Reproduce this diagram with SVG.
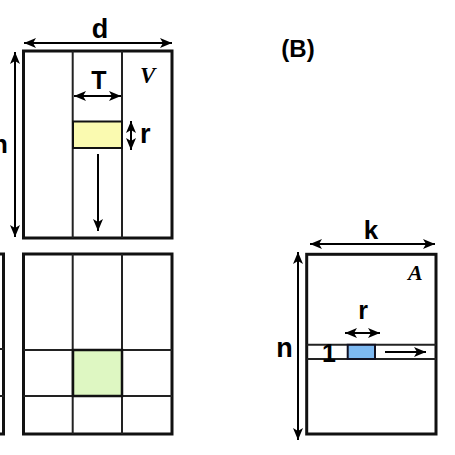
<svg xmlns="http://www.w3.org/2000/svg" width="455" height="455" viewBox="0 0 455 455">
<style>
.box{fill:none;stroke:#111;stroke-width:3}
.in{stroke:#222;stroke-width:2;fill:none}
.arr{stroke:#000;stroke-width:2;fill:none}
.lbl{font-family:"Liberation Sans",Arial,sans-serif;font-weight:bold;fill:#000}
.mat{font-family:"Liberation Serif","Times New Roman",serif;font-weight:bold;font-style:italic;fill:#000}
</style>
<defs>
<marker id="ah" markerUnits="userSpaceOnUse" markerWidth="12" markerHeight="10" refX="12" refY="5" orient="auto-start-reverse">
<path d="M0,0 L12,5 L0,10 L3,5 z" fill="#000"/>
</marker>
</defs>
<rect width="455" height="455" fill="#fff"/>
<g id="V-matrix">
<rect class="box" x="23.5" y="51" width="148.5" height="187"/>
<line class="in" x1="72.7" y1="51" x2="72.7" y2="238"/>
<line class="in" x1="122" y1="51" x2="122" y2="238"/>
<rect x="73" y="121.5" width="49" height="26.5" fill="#fafab0" stroke="#111" stroke-width="2"/>
<text class="mat" x="140" y="83" font-size="23">V</text>
</g>
<g id="left-partial">
<polyline class="box" points="-2,254 3.5,254 3.5,434 -2,434"/>
<line class="in" x1="0" y1="349" x2="4" y2="349"/>
<line class="in" x1="0" y1="396" x2="4" y2="396"/>
</g>
<g id="grid-matrix">
<rect class="box" x="23.5" y="254" width="148.5" height="180"/>
<line class="in" x1="72.7" y1="254" x2="72.7" y2="434"/>
<line class="in" x1="122" y1="254" x2="122" y2="434"/>
<line class="in" x1="23.5" y1="350" x2="172" y2="350"/>
<line class="in" x1="23.5" y1="396" x2="172" y2="396"/>
<rect x="73" y="350" width="49" height="46" fill="#def7c2" stroke="#111" stroke-width="2.5"/>
</g>
<g id="A-matrix">
<rect class="box" x="306.7" y="254.3" width="129.3" height="179.7"/>
<line class="in" x1="306.7" y1="344.8" x2="436" y2="344.8"/>
<line class="in" x1="306.7" y1="359" x2="436" y2="359"/>
<rect x="347.7" y="344.8" width="27.3" height="14.2" fill="#7db9f2" stroke="#112" stroke-width="2"/>
<text class="mat" x="408" y="280" font-size="22">A</text>
<text class="lbl" x="329" y="362" font-size="25" text-anchor="middle">1</text>
</g>
<g id="connectors">
<line class="arr" x1="24" y1="43" x2="172" y2="43" marker-start="url(#ah)" marker-end="url(#ah)"/>
<line class="arr" x1="15" y1="52" x2="15" y2="237" marker-start="url(#ah)" marker-end="url(#ah)"/>
<line class="arr" x1="74" y1="96" x2="121" y2="96" marker-start="url(#ah)" marker-end="url(#ah)"/>
<line class="arr" x1="131" y1="121" x2="131" y2="150" marker-start="url(#ah)" marker-end="url(#ah)"/>
<line class="arr" x1="98" y1="154" x2="98" y2="231" marker-end="url(#ah)"/>
<line class="arr" x1="310" y1="244" x2="435" y2="244" marker-start="url(#ah)" marker-end="url(#ah)"/>
<line class="arr" x1="298" y1="252" x2="298" y2="440" marker-start="url(#ah)" marker-end="url(#ah)"/>
<line class="arr" x1="345" y1="333" x2="380" y2="333" marker-start="url(#ah)" marker-end="url(#ah)"/>
<line class="arr" x1="385" y1="352" x2="426" y2="352" marker-end="url(#ah)"/>
</g>
<g id="labels">
<text class="lbl" x="100" y="38" font-size="27" text-anchor="middle">d</text>
<text class="lbl" x="8" y="153" font-size="26" text-anchor="end">n</text>
<text class="lbl" x="99" y="89" font-size="25" text-anchor="middle">T</text>
<text class="lbl" x="140" y="143" font-size="27">r</text>
<text class="lbl" x="298" y="57" font-size="24" text-anchor="middle">(B)</text>
<text class="lbl" x="371" y="239" font-size="26" text-anchor="middle">k</text>
<text class="lbl" x="363" y="319" font-size="25" text-anchor="middle">r</text>
<text class="lbl" x="284.5" y="357" font-size="27" text-anchor="middle">n</text>
</g>
</svg>
